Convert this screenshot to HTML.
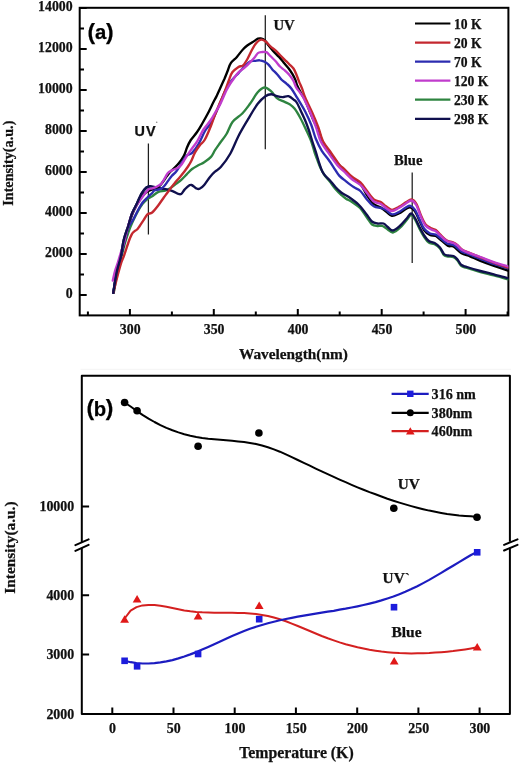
<!DOCTYPE html>
<html><head><meta charset="utf-8"><title>Photoluminescence spectra</title>
<style>html,body{margin:0;padding:0;background:#fff;}svg{display:block;}</style>
</head><body>
<svg width="520" height="763" viewBox="0 0 520 763">
<defs><clipPath id="clipA"><rect x="79.7" y="7.8" width="428.7" height="307.6"/></clipPath></defs>
<style>text{stroke:#111;stroke-width:0.25px;}</style>
<rect width="520" height="763" fill="#fff"/>
<path d="M80.5,369.3H511" stroke="#f4f4f4" stroke-width="1"/>
<rect x="79.7" y="7.8" width="428.7" height="307.6" fill="none" stroke="#000" stroke-width="2"/>
<path d="M79.7,294.9h7 M79.7,274.4h4.3 M79.7,253.9h7 M79.7,233.4h4.3 M79.7,212.9h7 M79.7,192.4h4.3 M79.7,171.9h7 M79.7,151.4h4.3 M79.7,130.9h7 M79.7,110.4h4.3 M79.7,89.9h7 M79.7,69.4h4.3 M79.7,48.9h7 M79.7,28.4h4.3 M79.7,7.9h7 M87.9,315.4v-3.8 M129.9,315.4v-6.5 M171.9,315.4v-3.8 M213.8,315.4v-6.5 M255.8,315.4v-3.8 M297.8,315.4v-6.5 M339.7,315.4v-3.8 M381.7,315.4v-6.5 M423.6,315.4v-3.8 M465.6,315.4v-6.5 M507.6,315.4v-3.8" stroke="#000" stroke-width="2" fill="none"/>
<g font-family="'Liberation Serif', 'Times New Roman', serif" font-weight="bold" font-size="13.8" fill="#111"><text x="72.6" y="297.9" text-anchor="end">0</text><text x="72.6" y="256.9" text-anchor="end">2000</text><text x="72.6" y="215.9" text-anchor="end">4000</text><text x="72.6" y="174.9" text-anchor="end">6000</text><text x="72.6" y="133.9" text-anchor="end">8000</text><text x="72.6" y="92.9" text-anchor="end">10000</text><text x="72.6" y="51.9" text-anchor="end">12000</text><text x="72.6" y="10.9" text-anchor="end">14000</text><text x="130.2" y="333.5" text-anchor="middle">300</text><text x="214.1" y="333.5" text-anchor="middle">350</text><text x="298.1" y="333.5" text-anchor="middle">400</text><text x="382.0" y="333.5" text-anchor="middle">450</text><text x="465.9" y="333.5" text-anchor="middle">500</text></g>
<text x="293.4" y="359" text-anchor="middle" font-family="'Liberation Serif', 'Times New Roman', serif" font-weight="bold" font-size="15.3" fill="#111">Wavelength(nm)</text>
<text transform="translate(13.2,163.2) rotate(-90)" text-anchor="middle" font-family="'Liberation Serif', 'Times New Roman', serif" font-weight="bold" font-size="14.2" fill="#111">Intensity(a.u.)</text>
<text x="87.6" y="39" font-family="'Liberation Sans', Arial, sans-serif" font-weight="bold" font-size="20.3" fill="#000"><tspan font-size="22.8" dy="-0.2">(</tspan><tspan dy="0.2" dx="-0.3">a</tspan><tspan font-size="22.8" dy="-0.2" dx="-0.3">)</tspan></text>
<path d="M265.3,15.2V149.2 M148.4,143.6V234.6 M412.2,172.6V263" stroke="#1e1e1e" stroke-width="1.25" fill="none"/>
<text x="273.4" y="29.8" font-family="'Liberation Serif', 'Times New Roman', serif" font-weight="bold" font-size="14.8" fill="#111">UV</text>
<text x="134.6" y="136.3" font-family="'Liberation Sans', Arial, sans-serif" font-weight="bold" font-size="14.4" letter-spacing="1" fill="#111">UV</text>
<circle cx="156.7" cy="122.3" r="0.8" fill="#888"/>
<text x="394" y="165.4" font-family="'Liberation Serif', 'Times New Roman', serif" font-weight="bold" font-size="14.6" fill="#111">Blue</text>
<path d="M415,23.5H450.4" stroke="#000000" stroke-width="2.2"/><text x="454" y="28.7" font-family="'Liberation Serif', 'Times New Roman', serif" font-weight="bold" font-size="13.6" fill="#111">10 K</text><path d="M415,42.6H450.4" stroke="#c4282f" stroke-width="2.2"/><text x="454" y="47.8" font-family="'Liberation Serif', 'Times New Roman', serif" font-weight="bold" font-size="13.6" fill="#111">20 K</text><path d="M415,61.6H450.4" stroke="#2c2cb0" stroke-width="2.2"/><text x="454" y="66.8" font-family="'Liberation Serif', 'Times New Roman', serif" font-weight="bold" font-size="13.6" fill="#111">70 K</text><path d="M415,80.7H450.4" stroke="#c03ccc" stroke-width="2.2"/><text x="454" y="85.9" font-family="'Liberation Serif', 'Times New Roman', serif" font-weight="bold" font-size="13.6" fill="#111">120 K</text><path d="M415,99.7H450.4" stroke="#2e8440" stroke-width="2.2"/><text x="454" y="104.9" font-family="'Liberation Serif', 'Times New Roman', serif" font-weight="bold" font-size="13.6" fill="#111">230 K</text><path d="M415,118.8H450.4" stroke="#10104e" stroke-width="2.2"/><text x="454" y="124.0" font-family="'Liberation Serif', 'Times New Roman', serif" font-weight="bold" font-size="13.6" fill="#111">298 K</text>
<g clip-path="url(#clipA)"><path d="M113.8,292.8C114.4,289.2 116.3,277.2 117.5,271.3C118.7,265.4 120.0,262.2 121.2,257.5C122.5,252.8 123.8,247.2 125.0,243.0C126.2,238.8 127.2,235.7 128.5,232.0C129.8,228.3 131.4,224.4 133.0,221.0C134.6,217.6 136.2,214.4 137.8,211.5C139.4,208.6 141.0,205.9 142.6,203.8C144.2,201.7 145.8,200.3 147.4,199.0C149.0,197.7 150.3,197.4 152.2,196.2C154.0,195.0 156.3,192.8 158.5,191.9C160.7,191.0 163.2,191.3 165.2,190.6C167.2,189.9 168.8,189.0 170.6,187.9C172.4,186.8 174.2,185.2 176.0,183.8C177.8,182.5 179.5,181.4 181.3,179.8C183.1,178.2 184.9,176.2 186.7,174.4C188.5,172.6 190.1,170.6 192.1,169.0C194.1,167.4 196.8,166.1 198.8,165.0C200.8,163.9 202.2,163.7 204.2,162.3C206.2,161.0 209.2,158.9 211.0,156.9C212.8,154.9 213.5,152.5 215.0,150.2C216.5,147.9 218.1,145.7 220.0,143.0C221.9,140.3 224.4,137.5 226.5,134.0C228.6,130.5 229.9,125.4 232.5,122.0C235.1,118.6 239.4,116.5 242.3,113.5C245.2,110.5 247.4,107.3 250.0,103.8C252.6,100.3 255.3,95.0 257.7,92.3C260.1,89.6 262.1,87.7 264.4,87.5C266.6,87.3 269.1,89.5 271.2,91.3C273.3,93.1 274.7,96.3 276.9,98.1C279.1,99.9 282.4,100.8 284.6,101.9C286.8,103.0 288.3,103.3 290.0,104.5C291.7,105.7 292.9,106.5 294.7,108.8C296.5,111.1 298.6,114.8 300.6,118.5C302.6,122.2 304.7,126.9 306.5,130.7C308.3,134.5 309.8,137.6 311.2,141.3C312.6,145.0 313.6,149.6 314.8,153.1C316.0,156.6 317.3,159.8 318.3,162.5C319.3,165.2 319.9,166.8 321.0,169.0C322.1,171.2 323.4,173.5 324.8,175.6C326.2,177.7 327.8,179.1 329.6,181.3C331.4,183.5 333.5,186.8 335.4,189.0C337.3,191.2 339.4,193.2 341.2,194.8C343.0,196.4 344.2,197.5 346.0,198.7C347.8,199.9 349.7,200.4 352.0,202.0C354.3,203.6 357.5,205.4 360.0,208.0C362.5,210.6 364.9,214.8 366.9,217.5C368.9,220.2 370.4,223.1 372.1,224.5C373.8,225.9 375.6,225.8 377.3,226.0C379.0,226.2 380.8,225.4 382.5,226.0C384.2,226.6 386.0,228.4 387.7,229.5C389.4,230.6 390.9,232.8 392.9,232.5C394.9,232.2 397.5,230.1 399.8,228.0C402.1,225.9 404.8,222.2 406.7,220.0C408.6,217.8 409.6,215.1 411.0,215.0C412.4,214.9 413.6,217.2 415.0,219.5C416.4,221.8 418.1,226.1 419.6,229.0C421.1,231.9 422.7,234.8 424.2,237.0C425.7,239.2 427.1,241.3 428.8,242.5C430.5,243.7 432.7,243.3 434.6,244.3C436.5,245.3 438.4,246.7 440.0,248.5C441.6,250.3 442.6,253.9 444.0,255.2C445.4,256.5 446.5,256.2 448.1,256.5C449.7,256.8 451.9,256.5 453.5,257.2C455.1,257.9 456.2,259.1 457.5,260.6C458.8,262.1 459.9,264.8 461.5,266.0C463.1,267.2 463.8,267.0 466.9,268.0C470.0,269.0 475.9,270.8 480.4,272.0C484.9,273.2 489.2,274.2 493.8,275.4C498.4,276.6 505.6,278.7 508.0,279.4" stroke="#2e8440" stroke-width="2.35" fill="none" stroke-linejoin="round" stroke-linecap="round"/><path d="M113.3,292.8C113.9,289.2 115.7,277.2 116.9,271.3C118.1,265.4 119.4,262.8 120.6,257.5C121.8,252.2 122.6,244.7 123.9,239.4C125.2,234.2 126.8,230.3 128.2,226.0C129.5,221.7 130.6,217.2 132.0,213.5C133.4,209.8 135.2,207.2 136.8,203.8C138.4,200.4 140.1,196.0 141.7,193.3C143.3,190.6 145.1,188.7 146.5,187.5C147.9,186.3 148.8,186.2 150.3,186.2C151.9,186.2 153.9,186.9 155.8,187.3C157.7,187.7 159.6,188.1 161.5,188.5C163.4,188.9 165.4,189.1 167.3,189.6C169.2,190.1 171.4,190.6 173.1,191.3C174.8,192.0 176.3,193.2 177.7,193.7C179.0,194.1 180.0,194.7 181.2,194.0C182.3,193.3 183.4,190.9 184.6,189.6C185.8,188.3 186.9,187.0 188.1,186.2C189.2,185.4 190.2,184.7 191.5,185.0C192.8,185.3 194.8,187.7 196.2,188.3C197.5,188.9 198.3,189.4 199.6,188.8C200.9,188.2 202.5,187.0 204.2,185.0C205.9,183.0 208.2,179.1 210.0,176.9C211.8,174.7 213.2,173.3 215.0,171.7C216.8,170.0 218.2,170.0 220.8,167.0C223.4,164.0 227.5,158.7 230.4,153.5C233.3,148.3 235.6,141.7 238.5,136.0C241.4,130.3 244.9,124.6 248.1,119.2C251.3,113.8 254.8,107.6 257.7,103.8C260.6,100.0 263.1,97.8 265.4,96.2C267.6,94.6 269.3,94.2 271.2,94.2C273.1,94.2 275.0,95.7 276.9,96.2C278.8,96.7 280.8,97.1 282.7,97.1C284.6,97.1 286.6,95.7 288.5,96.2C290.4,96.7 292.8,98.9 294.2,100.0C295.6,101.1 295.7,100.8 297.0,103.0C298.3,105.2 300.5,110.2 301.8,113.0C303.1,115.8 303.8,117.2 305.0,120.0C306.2,122.8 307.5,126.2 308.8,130.0C310.1,133.8 311.4,138.5 312.7,142.5C314.0,146.5 315.4,150.5 316.5,154.0C317.6,157.5 318.4,160.8 319.4,163.7C320.4,166.6 321.3,169.4 322.3,171.5C323.3,173.6 324.3,174.6 325.5,176.0C326.7,177.4 328.0,178.2 329.6,180.0C331.2,181.8 333.5,184.9 335.4,187.0C337.3,189.1 339.0,190.8 341.2,192.5C343.4,194.2 345.9,195.0 348.8,197.0C351.7,199.0 355.6,201.7 358.5,204.5C361.4,207.3 364.0,211.2 366.2,214.0C368.4,216.8 370.0,219.9 371.9,221.5C373.8,223.1 375.8,223.2 377.7,223.5C379.6,223.8 381.8,222.9 383.5,223.5C385.2,224.1 386.1,225.8 387.7,227.0C389.3,228.2 390.9,230.7 392.9,230.5C394.9,230.3 397.5,228.0 399.8,226.0C402.1,224.0 404.8,220.6 406.7,218.5C408.6,216.4 409.6,213.6 411.0,213.5C412.4,213.4 413.6,215.7 415.0,218.0C416.4,220.3 418.1,224.3 419.6,227.2C421.1,230.1 422.7,233.2 424.2,235.5C425.7,237.8 427.1,239.8 428.8,241.0C430.5,242.2 432.7,241.9 434.6,243.0C436.5,244.1 438.4,245.7 440.0,247.5C441.6,249.3 442.6,252.7 444.0,254.0C445.4,255.3 446.5,255.2 448.1,255.5C449.7,255.8 451.9,255.3 453.5,256.0C455.1,256.7 456.2,258.0 457.5,259.5C458.8,261.0 459.9,263.8 461.5,265.0C463.1,266.2 463.8,266.0 466.9,267.0C470.0,268.0 475.9,269.8 480.4,271.0C484.9,272.2 489.2,273.1 493.8,274.3C498.4,275.5 505.6,277.6 508.0,278.2" stroke="#10104e" stroke-width="2.35" fill="none" stroke-linejoin="round" stroke-linecap="round"/><path d="M113.3,292.8C113.9,289.2 115.7,277.2 116.9,271.3C118.1,265.4 119.4,262.4 120.6,257.5C121.8,252.6 123.0,247.1 124.3,242.0C125.6,236.9 126.9,231.5 128.2,227.0C129.5,222.5 130.6,218.7 132.0,215.0C133.4,211.3 135.2,208.0 136.8,205.0C138.4,202.0 140.1,199.2 141.7,197.0C143.3,194.8 144.9,193.2 146.5,192.0C148.1,190.8 149.4,190.6 151.0,190.0C152.6,189.4 154.5,189.2 156.0,188.5C157.5,187.8 158.8,186.8 160.0,185.5C161.2,184.2 162.0,183.1 163.5,181.0C165.0,178.9 167.6,175.1 169.2,173.1C170.8,171.1 171.7,170.6 173.3,169.0C174.9,167.4 176.8,165.8 178.6,163.6C180.4,161.4 182.6,158.3 184.0,155.6C185.4,152.9 185.9,150.1 187.0,147.5C188.1,144.9 189.2,142.5 190.8,140.0C192.5,137.5 195.0,135.0 196.9,132.3C198.8,129.6 200.2,127.1 202.0,124.0C203.8,120.9 206.0,117.0 207.7,113.8C209.4,110.6 210.5,108.1 212.0,105.0C213.5,101.9 215.5,98.3 216.9,95.4C218.3,92.5 219.2,90.3 220.5,87.5C221.8,84.7 223.3,81.4 224.6,78.5C225.8,75.6 227.0,72.6 228.0,70.0C229.0,67.4 229.3,65.3 230.8,63.1C232.3,60.9 234.9,59.2 236.9,56.9C238.9,54.6 241.2,51.2 243.1,49.2C244.9,47.2 246.5,46.1 248.0,45.0C249.5,43.9 251.1,43.1 252.3,42.3C253.6,41.5 254.6,40.8 255.5,40.2C256.4,39.6 257.0,39.0 257.9,38.7C258.8,38.4 259.7,38.3 260.8,38.5C261.9,38.7 263.3,39.0 264.6,40.1C265.9,41.2 267.1,43.5 268.5,45.4C269.9,47.2 271.6,49.3 273.3,51.2C275.1,53.1 277.2,55.0 279.0,56.9C280.8,58.8 282.2,60.8 283.8,62.7C285.4,64.6 287.2,66.6 288.7,68.5C290.1,70.4 291.4,72.3 292.5,74.2C293.6,76.1 294.6,78.1 295.4,80.0C296.2,81.9 296.4,83.6 297.3,85.8C298.2,88.0 299.7,90.6 301.0,93.0C302.3,95.4 303.6,97.0 305.0,100.0C306.4,103.0 308.0,107.4 309.5,111.0C311.0,114.6 312.5,118.4 314.0,121.5C315.5,124.6 317.0,126.3 318.3,129.5C319.6,132.7 320.6,137.3 322.0,140.5C323.4,143.7 325.4,146.2 327.0,148.5C328.6,150.8 329.6,152.2 331.3,154.5C333.0,156.8 334.9,159.9 337.0,162.5C339.1,165.1 341.6,167.5 344.0,170.0C346.4,172.5 349.0,175.4 351.7,177.7C354.4,180.0 357.9,181.1 360.4,184.0C362.9,186.9 364.7,191.7 366.9,195.0C369.1,198.3 371.5,201.9 373.8,204.0C376.1,206.1 378.8,206.2 380.8,207.5C382.8,208.8 384.1,210.1 386.0,211.5C387.9,212.9 389.8,215.5 391.9,215.8C394.0,216.1 396.5,214.6 398.8,213.5C401.1,212.4 403.9,210.0 405.8,209.0C407.7,208.0 408.9,206.9 410.4,207.3C411.9,207.7 413.5,209.0 415.0,211.3C416.5,213.6 418.1,217.8 419.6,221.0C421.1,224.2 422.5,227.9 424.2,230.2C425.9,232.5 428.1,234.0 430.0,235.0C431.9,236.0 433.9,235.1 435.8,236.0C437.7,236.9 439.4,238.9 441.5,240.6C443.6,242.2 446.1,244.9 448.1,245.9C450.1,246.9 451.3,245.3 453.5,246.5C455.7,247.7 458.8,251.7 461.5,253.3C464.2,254.9 466.9,255.1 470.0,256.3C473.1,257.6 476.4,259.2 480.4,260.8C484.4,262.4 489.4,264.2 494.0,265.8C498.6,267.4 505.7,269.8 508.0,270.6" stroke="#000000" stroke-width="2.35" fill="none" stroke-linejoin="round" stroke-linecap="round"/><path d="M113.3,292.8C113.9,289.2 115.7,277.2 116.9,271.3C118.1,265.4 119.4,262.4 120.6,257.5C121.8,252.6 123.0,246.9 124.3,242.0C125.6,237.1 126.7,231.7 128.2,228.0C129.6,224.3 131.4,222.9 133.0,220.0C134.6,217.1 136.2,213.4 137.8,210.5C139.4,207.6 141.0,204.7 142.6,202.5C144.2,200.3 145.8,199.1 147.4,197.5C149.0,195.9 151.0,194.2 152.2,193.0C153.4,191.8 153.1,191.1 154.4,190.5C155.7,189.9 158.2,189.9 159.8,189.2C161.4,188.5 162.5,187.8 163.8,186.5C165.2,185.2 166.6,182.9 167.9,181.1C169.2,179.3 170.6,177.4 171.9,175.8C173.2,174.2 174.4,173.7 176.0,171.7C177.6,169.7 179.5,166.3 181.3,163.6C183.1,160.9 184.9,157.4 186.7,155.6C188.5,153.8 190.1,154.9 192.1,152.9C194.1,150.9 196.7,147.2 198.8,143.5C201.0,139.8 202.9,134.5 205.0,131.0C207.1,127.5 209.0,126.5 211.2,122.7C213.4,118.9 215.6,113.5 218.0,108.0C220.4,102.5 223.3,94.7 225.6,90.0C227.9,85.3 229.8,82.8 232.0,80.0C234.2,77.2 236.5,75.3 238.5,73.1C240.5,70.9 242.1,68.9 244.0,67.0C245.9,65.1 248.2,62.5 250.0,61.5C251.8,60.5 253.4,61.0 255.0,60.8C256.6,60.6 258.2,60.1 259.8,60.3C261.4,60.4 263.2,61.0 264.6,61.7C266.1,62.4 267.2,63.3 268.5,64.6C269.8,65.9 270.9,67.8 272.3,69.4C273.7,71.0 275.5,72.4 277.1,74.2C278.7,76.0 280.3,78.4 281.9,80.0C283.5,81.6 285.1,82.3 286.7,83.8C288.3,85.2 289.8,86.4 291.5,88.7C293.2,91.0 294.8,93.9 297.1,97.7C299.4,101.5 303.0,107.3 305.3,111.8C307.6,116.3 309.4,120.3 311.2,124.8C313.0,129.3 314.1,134.7 315.9,139.0C317.7,143.3 319.6,147.3 321.8,150.8C324.0,154.3 326.9,157.4 328.9,160.2C330.9,162.9 331.9,164.7 333.6,167.3C335.3,169.9 337.1,173.3 339.2,175.6C341.3,177.9 343.6,179.4 346.0,181.3C348.4,183.2 351.3,185.5 353.7,187.1C356.1,188.7 358.2,188.9 360.4,191.0C362.6,193.1 364.7,196.8 366.9,199.4C369.1,202.0 371.5,204.9 373.8,206.3C376.1,207.7 378.8,207.4 380.8,208.0C382.8,208.6 384.1,208.9 386.0,210.0C387.9,211.1 389.8,214.1 391.9,214.4C394.0,214.8 396.5,213.2 398.8,212.1C401.1,210.9 403.9,208.6 405.8,207.5C407.7,206.4 408.9,205.4 410.4,205.8C411.9,206.2 413.5,207.5 415.0,209.8C416.5,212.1 418.1,216.4 419.6,219.6C421.1,222.8 422.5,226.5 424.2,228.8C425.9,231.1 428.1,232.5 430.0,233.5C431.9,234.5 433.9,233.7 435.8,234.6C437.7,235.5 440.0,238.0 441.5,239.2C443.0,240.4 443.9,241.2 445.0,242.0C446.1,242.8 446.7,243.5 448.1,244.0C449.5,244.5 451.3,243.8 453.5,245.0C455.7,246.2 459.3,250.1 461.5,251.5C463.7,252.9 463.8,252.3 466.9,253.5C470.0,254.7 475.9,257.1 480.4,258.8C484.9,260.6 489.2,262.4 493.8,264.0C498.4,265.6 505.6,267.6 508.0,268.3" stroke="#2c2cb0" stroke-width="2.35" fill="none" stroke-linejoin="round" stroke-linecap="round"/><path d="M113.5,292.5C113.9,290.8 115.1,285.5 116.0,282.0C116.9,278.5 117.9,274.6 118.8,271.3C119.7,268.0 120.6,264.8 121.5,262.0C122.4,259.2 123.1,258.3 124.3,254.8C125.5,251.3 127.7,244.4 128.9,241.0C130.1,237.6 130.8,236.2 131.6,234.6C132.4,233.0 133.1,232.5 134.0,231.7C134.9,230.8 136.2,230.4 137.1,229.5C138.0,228.6 138.6,227.6 139.7,226.0C140.8,224.4 142.3,222.1 143.6,220.2C144.9,218.3 146.0,215.7 147.4,214.4C148.8,213.1 150.4,213.9 152.2,212.5C154.0,211.1 156.1,208.3 158.0,205.8C159.9,203.3 162.2,199.8 163.8,197.5C165.5,195.2 166.6,193.8 167.9,192.0C169.2,190.2 170.6,188.3 171.9,186.6C173.2,184.8 174.7,183.1 176.0,181.5C177.3,179.9 178.6,178.6 180.0,176.9C181.4,175.2 183.3,172.9 184.6,171.2C185.9,169.5 186.8,168.3 188.0,166.5C189.2,164.7 190.4,162.8 191.5,160.5C192.6,158.2 193.4,155.5 194.8,152.9C196.2,150.3 198.6,147.0 200.2,144.8C201.8,142.7 202.8,143.1 204.6,140.0C206.4,136.9 209.2,130.2 210.8,126.2C212.5,122.2 213.2,119.3 214.5,116.0C215.8,112.7 217.2,109.4 218.5,106.2C219.8,103.0 221.2,100.1 222.5,97.0C223.8,93.9 225.1,90.5 226.2,87.7C227.3,84.9 228.0,82.6 229.0,80.0C230.0,77.4 230.7,74.5 232.3,72.3C233.9,70.1 236.7,68.1 238.5,66.9C240.3,65.8 241.6,66.8 243.1,65.4C244.6,64.0 246.2,61.2 247.7,58.5C249.2,55.8 251.0,51.6 252.3,49.2C253.6,46.8 254.4,45.4 255.5,44.0C256.6,42.6 257.8,41.3 258.8,40.6C259.8,39.9 260.6,39.5 261.7,39.6C262.8,39.8 264.2,40.4 265.6,41.5C267.1,42.6 268.8,44.8 270.4,46.3C272.0,47.8 273.6,48.8 275.2,50.2C276.8,51.7 278.4,53.4 280.0,55.0C281.6,56.6 283.2,58.2 284.8,59.8C286.4,61.4 288.2,63.1 289.6,64.6C291.1,66.0 292.4,66.9 293.5,68.5C294.6,70.1 295.4,72.0 296.3,74.2C297.2,76.4 298.2,79.5 299.2,81.9C300.2,84.3 301.1,86.1 302.1,88.7C303.1,91.3 303.6,93.7 305.3,97.7C307.0,101.8 310.2,108.1 312.4,113.0C314.6,117.9 316.5,122.5 318.3,127.2C320.1,131.9 320.8,137.0 323.0,141.3C325.2,145.6 328.6,149.2 331.3,153.1C334.1,157.0 337.4,162.3 339.5,164.9C341.6,167.5 342.0,166.9 344.0,168.8C346.0,170.7 349.0,174.2 351.7,176.5C354.4,178.8 357.9,179.9 360.4,182.3C362.9,184.7 364.7,188.0 366.9,190.8C369.1,193.7 371.5,197.5 373.8,199.4C376.1,201.3 378.8,200.8 380.8,202.0C382.8,203.2 384.1,205.0 386.0,206.3C387.9,207.6 389.8,209.7 391.9,209.8C394.0,209.9 396.5,208.2 398.8,206.9C401.1,205.7 403.7,203.6 405.8,202.3C407.9,201.1 409.8,199.2 411.5,199.4C413.2,199.6 414.6,200.9 416.2,203.5C417.8,206.1 419.3,211.6 420.8,215.0C422.3,218.4 423.7,222.0 425.4,224.2C427.1,226.4 429.5,227.3 431.2,228.3C432.9,229.3 434.3,228.9 435.8,230.0C437.3,231.1 438.9,233.1 440.4,234.6C441.9,236.1 443.7,238.1 445.0,239.2C446.3,240.3 446.7,240.5 448.1,241.1C449.5,241.7 451.9,241.8 453.5,242.5C455.1,243.2 456.2,244.1 457.5,245.2C458.8,246.3 459.9,248.1 461.5,249.2C463.1,250.3 463.8,250.6 466.9,251.9C470.0,253.2 475.9,255.5 480.4,257.3C484.9,259.1 489.2,261.0 493.8,262.7C498.4,264.4 505.6,266.7 508.0,267.5" stroke="#c4282f" stroke-width="2.35" fill="none" stroke-linejoin="round" stroke-linecap="round"/><path d="M112.8,280.5C113.2,278.9 114.1,274.1 115.0,271.0C115.9,267.9 117.0,265.2 118.0,262.0C119.0,258.8 120.0,255.4 121.0,252.0C122.0,248.6 123.1,245.8 124.3,241.5C125.5,237.2 126.9,230.6 128.2,226.0C129.5,221.4 130.6,217.5 132.0,214.0C133.4,210.5 135.2,207.7 136.8,205.0C138.4,202.3 139.8,200.6 141.7,198.0C143.6,195.4 146.7,191.0 148.4,189.4C150.2,187.8 150.8,189.0 152.2,188.5C153.6,188.0 155.6,187.3 157.1,186.5C158.6,185.7 160.1,184.9 161.2,183.8C162.3,182.7 162.7,181.6 163.8,179.8C164.9,178.0 166.6,174.7 167.9,173.1C169.2,171.5 169.9,171.5 171.9,170.4C173.9,169.3 177.8,168.3 180.0,166.3C182.2,164.3 183.6,161.0 185.4,158.3C187.2,155.6 188.8,153.1 190.8,150.2C192.8,147.3 195.4,144.2 197.5,140.8C199.6,137.4 201.3,133.0 203.5,129.5C205.7,126.0 208.8,122.9 210.8,120.0C212.8,117.1 214.0,114.6 215.5,112.0C217.0,109.4 218.2,108.1 220.0,104.6C221.8,101.1 224.5,94.2 226.2,90.8C227.9,87.4 228.7,86.0 230.0,84.0C231.3,82.0 232.4,80.5 233.8,78.5C235.2,76.5 236.7,74.1 238.5,72.3C240.3,70.5 242.5,69.5 244.6,67.7C246.7,65.9 249.1,63.3 250.8,61.5C252.5,59.7 253.8,58.3 255.0,56.9C256.2,55.5 256.8,53.9 257.9,53.1C259.0,52.3 260.3,52.3 261.7,52.1C263.1,51.9 265.1,51.5 266.5,52.1C267.9,52.8 268.9,54.5 270.4,56.0C271.8,57.5 273.6,59.0 275.2,60.8C276.8,62.5 278.4,64.9 280.0,66.5C281.6,68.1 283.2,69.0 284.8,70.4C286.4,71.9 288.2,73.4 289.6,75.2C291.1,77.0 292.4,78.9 293.5,81.0C294.6,83.1 295.2,85.8 296.3,87.7C297.4,89.6 298.9,91.0 300.0,92.5C301.1,94.0 301.9,95.1 303.0,97.0C304.1,98.9 305.3,101.5 306.5,104.0C307.7,106.5 308.4,107.9 310.0,111.8C311.6,115.7 314.2,122.3 316.0,127.2C317.8,132.1 318.8,137.2 320.7,141.3C322.6,145.4 324.9,148.0 327.7,151.9C330.4,155.8 334.5,161.6 337.2,164.9C339.9,168.2 341.6,169.2 344.0,171.5C346.4,173.8 349.0,176.8 351.7,179.0C354.4,181.2 357.9,182.7 360.4,185.0C362.9,187.3 364.7,190.2 366.9,193.0C369.1,195.8 371.5,199.7 373.8,201.5C376.1,203.3 378.8,202.9 380.8,204.0C382.8,205.1 384.1,206.8 386.0,208.0C387.9,209.2 389.8,211.0 391.9,211.0C394.0,211.0 396.5,209.2 398.8,208.0C401.1,206.8 403.7,204.8 405.8,203.5C407.9,202.2 409.8,200.2 411.5,200.5C413.2,200.8 414.6,202.3 416.2,205.0C417.8,207.7 419.3,213.1 420.8,216.5C422.3,219.9 423.7,223.3 425.4,225.5C427.1,227.7 429.5,228.6 431.2,229.5C432.9,230.4 434.3,230.2 435.8,231.2C437.3,232.2 438.9,234.1 440.4,235.5C441.9,236.9 443.7,238.8 445.0,239.8C446.3,240.8 446.7,241.0 448.1,241.5C449.5,242.0 451.9,242.3 453.5,243.0C455.1,243.7 456.2,244.4 457.5,245.5C458.8,246.6 459.9,248.4 461.5,249.5C463.1,250.6 463.8,250.9 466.9,252.2C470.0,253.4 475.9,255.3 480.4,257.0C484.9,258.7 489.2,260.6 493.8,262.2C498.4,263.8 505.6,265.7 508.0,266.4" stroke="#c03ccc" stroke-width="2.35" fill="none" stroke-linejoin="round" stroke-linecap="round"/><path d="M113.3,292.8C113.9,289.2 115.7,277.2 116.9,271.3C118.1,265.4 119.4,262.8 120.6,257.5C121.8,252.2 122.6,244.7 123.9,239.4C125.2,234.2 126.8,230.3 128.2,226.0C129.5,221.7 130.6,217.2 132.0,213.5C133.4,209.8 135.2,207.2 136.8,203.8C138.4,200.4 140.1,196.0 141.7,193.3C143.3,190.6 145.1,188.7 146.5,187.5C147.9,186.3 149.7,186.4 150.3,186.2" stroke="#10104e" stroke-width="2.35" fill="none" stroke-linejoin="round" stroke-linecap="round"/></g>
<path d="M81.8,542 V375.7 H509.9 V541.8 M509.9,547.8 V714.0 H81.8 V548" stroke="#000" stroke-width="2" fill="none" stroke-linejoin="round"/>
<path d="M75.4,545.1 L88.6,539.4 M75.4,550.9 L88.6,544.9 M504.1,544.9 L517.5,539.3 M504.1,550.5 L517.5,544.9" stroke="#000" stroke-width="2" fill="none" stroke-linecap="round"/>
<path d="M112.3,714.0v-6.5 M173.5,714.0v-6.5 M234.7,714.0v-6.5 M295.9,714.0v-6.5 M357.2,714.0v-6.5 M418.4,714.0v-6.5 M479.6,714.0v-6.5 M81.8,506.6h7.3 M81.8,595.2h7.3 M81.8,654.5h7.3" stroke="#000" stroke-width="2" fill="none"/>
<g font-family="'Liberation Serif', 'Times New Roman', serif" font-weight="bold" font-size="13.9" fill="#111"><text x="112.6" y="732.6" text-anchor="middle">0</text><text x="173.8" y="732.6" text-anchor="middle">50</text><text x="235.0" y="732.6" text-anchor="middle">100</text><text x="296.2" y="732.6" text-anchor="middle">150</text><text x="357.5" y="732.6" text-anchor="middle">200</text><text x="418.7" y="732.6" text-anchor="middle">250</text><text x="479.9" y="732.6" text-anchor="middle">300</text><text x="74.2" y="511.2" text-anchor="end">10000</text><text x="74.2" y="599.8" text-anchor="end">4000</text><text x="74.2" y="659.1" text-anchor="end">3000</text><text x="74.2" y="718.6" text-anchor="end">2000</text></g>
<text x="296.4" y="758" text-anchor="middle" font-family="'Liberation Serif', 'Times New Roman', serif" font-weight="bold" font-size="15.8" fill="#111">Temperature (K)</text>
<text transform="translate(14.8,547.6) rotate(-90)" text-anchor="middle" font-family="'Liberation Serif', 'Times New Roman', serif" font-weight="bold" font-size="15.4" fill="#111">Intensity(a.u.)</text>
<text x="86.4" y="415.6" font-family="'Liberation Sans', Arial, sans-serif" font-weight="bold" font-size="20.3" fill="#000"><tspan font-size="22.8" dy="-0.2">(</tspan><tspan dy="0.2" dx="-0.3">b</tspan><tspan font-size="22.8" dy="-0.2" dx="-0.3">)</tspan></text>
<text x="397.8" y="488.8" font-family="'Liberation Serif', 'Times New Roman', serif" font-weight="bold" font-size="15.3" fill="#111">UV</text>
<text x="382.6" y="582.9" font-family="'Liberation Serif', 'Times New Roman', serif" font-weight="bold" font-size="15.3" fill="#111">UV`</text>
<text x="391.4" y="637.3" font-family="'Liberation Serif', 'Times New Roman', serif" font-weight="bold" font-size="15.5" fill="#111">Blue</text>
<path d="M124.6,402.5 L130.6,406.5 L136.5,410.8 L142.5,414.9 L148.5,418.6 L154.5,422.0 L160.4,425.1 L166.4,427.9 L172.4,430.3 L178.4,432.4 L184.3,434.2 L190.3,435.7 L196.3,436.9 L202.2,437.9 L208.2,438.7 L214.2,439.3 L220.2,439.8 L226.1,440.3 L232.1,440.8 L238.1,441.4 L244.1,442.0 L250.0,442.9 L256.0,444.0 L262.0,445.5 L267.9,447.2 L273.9,449.4 L279.9,451.7 L285.9,454.3 L291.8,457.1 L297.8,460.0 L303.8,462.8 L309.8,465.7 L315.7,468.6 L321.7,471.4 L327.7,474.1 L333.7,476.9 L339.6,479.6 L345.6,482.2 L351.6,484.8 L357.5,487.3 L363.5,489.7 L369.5,492.1 L375.5,494.3 L381.4,496.5 L387.4,498.7 L393.4,500.7 L399.4,502.6 L405.3,504.4 L411.3,506.1 L417.3,507.7 L423.2,509.2 L429.2,510.6 L435.2,511.8 L441.2,512.9 L447.1,513.9 L453.1,514.7 L459.1,515.4 L465.1,515.9 L471.0,516.3 L477.0,517.0" stroke="#000" stroke-width="2" fill="none" stroke-linejoin="round"/>
<path d="M124.6,618.5 L130.6,610.6 L136.5,607.1 L142.5,605.4 L148.5,604.9 L154.5,605.1 L160.4,605.8 L166.4,606.8 L172.4,608.1 L178.4,609.3 L184.3,610.5 L190.3,611.3 L196.3,611.9 L202.2,612.3 L208.2,612.5 L214.2,612.7 L220.2,612.7 L226.1,612.7 L232.1,612.8 L238.1,612.9 L244.1,613.1 L250.0,613.5 L256.0,614.0 L262.0,614.9 L267.9,616.0 L273.9,617.5 L279.9,619.3 L285.9,621.3 L291.8,623.6 L297.8,626.0 L303.8,628.5 L309.8,631.0 L315.7,633.5 L321.7,636.0 L327.7,638.3 L333.7,640.4 L339.6,642.4 L345.6,644.2 L351.6,645.8 L357.5,647.3 L363.5,648.6 L369.5,649.8 L375.5,650.7 L381.4,651.6 L387.4,652.2 L393.4,652.7 L399.4,653.1 L405.3,653.3 L411.3,653.4 L417.3,653.3 L423.2,653.2 L429.2,653.0 L435.2,652.6 L441.2,652.2 L447.1,651.7 L453.1,651.1 L459.1,650.3 L465.1,649.4 L471.0,648.4 L477.0,647.3" stroke="#d42020" stroke-width="2" fill="none" stroke-linejoin="round"/>
<path d="M124.6,660.8 L130.6,662.2 L136.5,663.0 L142.5,663.5 L148.5,663.5 L154.5,663.1 L160.4,662.4 L166.4,661.4 L172.4,660.1 L178.4,658.4 L184.3,656.5 L190.3,654.4 L196.3,652.1 L202.2,649.6 L208.2,646.9 L214.2,644.2 L220.2,641.5 L226.1,638.7 L232.1,636.0 L238.1,633.5 L244.1,631.1 L250.0,628.8 L256.0,626.8 L262.0,625.0 L267.9,623.3 L273.9,621.7 L279.9,620.3 L285.9,619.0 L291.8,617.8 L297.8,616.7 L303.8,615.7 L309.8,614.6 L315.7,613.7 L321.7,612.7 L327.7,611.7 L333.7,610.8 L339.6,609.7 L345.6,608.7 L351.6,607.5 L357.5,606.3 L363.5,605.0 L369.5,603.6 L375.5,602.1 L381.4,600.4 L387.4,598.5 L393.4,596.5 L399.4,594.2 L405.3,591.8 L411.3,589.1 L417.3,586.2 L423.2,583.1 L429.2,579.9 L435.2,576.4 L441.2,572.9 L447.1,569.3 L453.1,565.7 L459.1,562.1 L465.1,558.5 L471.0,555.0 L477.0,552.1" stroke="#1c1cc0" stroke-width="2.2" fill="none" stroke-linejoin="round"/>
<circle cx="124.6" cy="402.5" r="3.8" fill="#000"/><circle cx="137.1" cy="410.8" r="3.8" fill="#000"/><circle cx="198.1" cy="446.2" r="3.8" fill="#000"/><circle cx="258.9" cy="433" r="3.8" fill="#000"/><circle cx="393.8" cy="508.3" r="3.8" fill="#000"/><circle cx="477" cy="517.3" r="3.8" fill="#000"/><rect x="121.3" y="657.5" width="6.6" height="6.6" fill="#1c1cdc"/><rect x="133.8" y="663.0" width="6.6" height="6.6" fill="#1c1cdc"/><rect x="194.8" y="650.7" width="6.6" height="6.6" fill="#1c1cdc"/><rect x="255.9" y="615.9" width="6.6" height="6.6" fill="#1c1cdc"/><rect x="390.7" y="603.9" width="6.6" height="6.6" fill="#1c1cdc"/><rect x="473.9" y="549.0" width="6.6" height="6.6" fill="#1c1cdc"/><path d="M124.6,615.2 L129.0,622.7 L120.2,622.7Z" fill="#e01818"/><path d="M137.1,595.0 L141.5,602.5 L132.7,602.5Z" fill="#e01818"/><path d="M198.1,612.0 L202.5,619.5 L193.7,619.5Z" fill="#e01818"/><path d="M259.2,601.6 L263.6,609.1 L254.8,609.1Z" fill="#e01818"/><path d="M394.2,657.0 L398.6,664.5 L389.8,664.5Z" fill="#e01818"/><path d="M477.2,643.0 L481.6,650.5 L472.8,650.5Z" fill="#e01818"/>
<path d="M391.6,393.8H428.7" stroke="#1c1cc0" stroke-width="2.2"/><rect x="407.1" y="390.6" width="6.4" height="6.4" fill="#1c1cdc"/><path d="M391.6,412.8H428.7" stroke="#000" stroke-width="2.2"/><circle cx="410.3" cy="412.8" r="3.5" fill="#000"/><path d="M391.6,431.2H428.7" stroke="#d42020" stroke-width="2.2"/><path d="M410.3,427.2 L414.6,434.5 L406,434.5Z" fill="#e01818"/><text x="431.6" y="398.7" font-family="'Liberation Serif', 'Times New Roman', serif" font-weight="bold" font-size="14.1" fill="#111">316 nm</text><text x="431.6" y="417.7" font-family="'Liberation Serif', 'Times New Roman', serif" font-weight="bold" font-size="14.1" fill="#111">380nm</text><text x="431.6" y="436.1" font-family="'Liberation Serif', 'Times New Roman', serif" font-weight="bold" font-size="14.1" fill="#111">460nm</text>
</svg>
</body></html>
